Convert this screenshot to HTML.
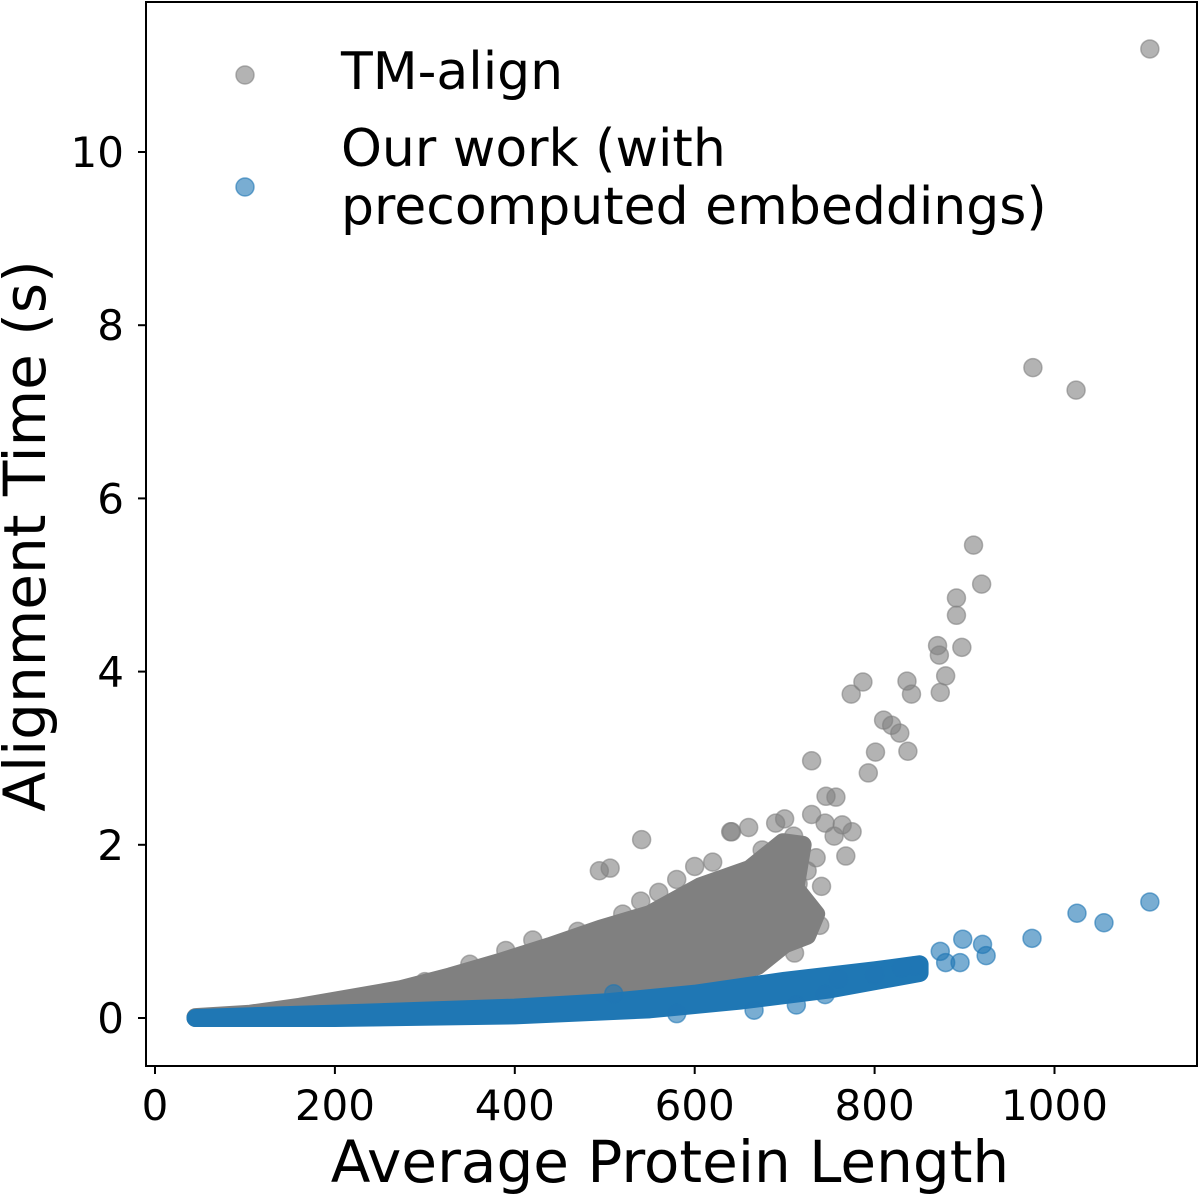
<!DOCTYPE html>
<html><head><meta charset="utf-8"><style>
html,body{margin:0;padding:0;background:#fff;}
svg text{font-family:"DejaVu Sans","Liberation Sans",sans-serif;fill:#000;}
</style></head><body>
<svg id="chart" width="1200" height="1197" viewBox="0 0 1200 1197" xmlns="http://www.w3.org/2000/svg">
<g id="plot"></g>
<rect x="146" y="2" width="1051" height="1064" fill="none" stroke="#000" stroke-width="2"/>
<g id="axes"></g>
<text x="670" y="1182" font-size="58" text-anchor="middle">Average Protein Length</text>
<text transform="translate(45,536) rotate(-90)" font-size="58" text-anchor="middle">Alignment Time (s)</text>
<g>
<circle cx="245" cy="75" r="9" fill="#808080" fill-opacity="0.6" stroke="#808080" stroke-opacity="0.6" stroke-width="1.5"/>
<text x="341" y="89" font-size="52">TM-align</text>
<circle cx="245" cy="187" r="9" fill="#1f77b4" fill-opacity="0.6" stroke="#1f77b4" stroke-opacity="0.6" stroke-width="1.5"/>
<text x="341" y="166" font-size="52">Our work (with</text>
<text x="341" y="224" font-size="52">precomputed embeddings)</text>
</g>
</svg>
<script>
// X ticks and Y ticks
const xTicks = [0, 200, 400, 600, 800, 1000];
const yTicks = [0, 2, 4, 6, 8, 10];
// Dense TM-align cloud envelope [length, seconds]
const grayBandX = [45, 106, 161, 272, 328, 384, 439, 495, 550, 606, 661, 698, 720, 712, 735, 725, 700, 670, 640, 620, 600, 500, 300, 45];
const grayBandY = [0.01, 0.05, 0.13, 0.33, 0.48, 0.65, 0.83, 1.03, 1.2, 1.52, 1.72, 2.03, 2.0, 1.5, 1.2, 0.95, 0.85, 0.6, 0.5, 0.4, 0.3, 0.15, 0.05, 0];
// TM-align individual points
const grayX = [1106, 976, 1024, 910, 919, 891, 891, 897, 870, 872, 879, 873, 836, 841, 787, 774, 810, 819, 828, 801, 837, 793, 730, 746, 757, 764, 775, 768, 541, 494, 506, 641, 675, 739, 741, 711, 655, 632, 714, 701, 620, 640, 660, 690, 700, 710, 730, 745, 755, 735, 725, 715, 560, 580, 600, 540, 350, 420, 470, 520, 450, 300, 390];
const grayY = [11.19, 7.51, 7.25, 5.46, 5.01, 4.85, 4.65, 4.28, 4.30, 4.19, 3.95, 3.76, 3.89, 3.74, 3.88, 3.74, 3.44, 3.38, 3.29, 3.07, 3.08, 2.83, 2.97, 2.56, 2.55, 2.23, 2.15, 1.87, 2.06, 1.70, 1.73, 2.15, 1.94, 1.07, 1.52, 0.75, 0.58, 0.51, 1.36, 1.27, 1.8, 2.15, 2.2, 2.25, 2.3, 2.1, 2.35, 2.25, 2.1, 1.85, 1.7, 1.55, 1.45, 1.6, 1.75, 1.35, 0.62, 0.9, 1.0, 1.2, 0.82, 0.42, 0.78];
// Our work dense band envelope
const blueBandX = [45, 200, 400, 500, 600, 700, 800, 850, 850, 750, 650, 550, 400, 200, 45];
const blueBandY = [0.0, 0.05, 0.12, 0.18, 0.28, 0.43, 0.55, 0.62, 0.52, 0.33, 0.2, 0.1, 0.03, 0, 0];
// Our work individual points
const blueX = [1106, 1025, 1055, 975, 898, 873, 920, 924, 895, 879, 844, 666, 713, 745, 760, 800, 830, 580, 510];
const blueY = [1.34, 1.21, 1.10, 0.92, 0.91, 0.77, 0.85, 0.72, 0.64, 0.64, 0.60, 0.09, 0.15, 0.27, 0.45, 0.5, 0.58, 0.05, 0.28];

const NS = 'http://www.w3.org/2000/svg';
const xs = v => 155 + v * 0.8995;
const ys = v => 1018 - v * 86.6;
const plot = document.getElementById('plot');
const axes = document.getElementById('axes');

function band(bx, by, color, name) {
  const p = document.createElementNS(NS, 'polygon');
  p.setAttribute('points', bx.map((x, i) => xs(x) + ',' + ys(by[i])).join(' '));
  p.setAttribute('fill', color);
  p.setAttribute('stroke', color);
  p.setAttribute('stroke-width', '18');
  p.setAttribute('stroke-linejoin', 'round');
  
  
  plot.appendChild(p);
}
function pts(px, py, color, name) {
  px.forEach((x, i) => {
    const c = document.createElementNS(NS, 'circle');
    c.setAttribute('cx', xs(x));
    c.setAttribute('cy', ys(py[i]));
    c.setAttribute('r', 9);
    c.setAttribute('fill', color);
    c.setAttribute('fill-opacity', '0.6');
    c.setAttribute('stroke', color);
    c.setAttribute('stroke-opacity', '0.6');
    c.setAttribute('stroke-width', '1.5');
    
    
    plot.appendChild(c);
  });
}
band(grayBandX, grayBandY, '#808080', 'tmalign-dense-cloud');
pts(grayX, grayY, '#808080', 'tmalign-point');
band(blueBandX, blueBandY, '#1f77b4', 'ourwork-dense-cloud');
pts(blueX, blueY, '#1f77b4', 'ourwork-point');

xTicks.forEach(t => {
  const l = document.createElementNS(NS, 'line');
  l.setAttribute('x1', xs(t)); l.setAttribute('x2', xs(t));
  l.setAttribute('y1', 1066); l.setAttribute('y2', 1074);
  l.setAttribute('stroke', '#000'); l.setAttribute('stroke-width', '2');
  
  
  axes.appendChild(l);
  const tx = document.createElementNS(NS, 'text');
  tx.setAttribute('x', xs(t)); tx.setAttribute('y', 1120);
  tx.setAttribute('font-size', '42'); tx.setAttribute('text-anchor', 'middle');
  tx.textContent = t;
  
  
  axes.appendChild(tx);
});
yTicks.forEach(t => {
  const l = document.createElementNS(NS, 'line');
  l.setAttribute('x1', 138); l.setAttribute('x2', 146);
  l.setAttribute('y1', ys(t)); l.setAttribute('y2', ys(t));
  l.setAttribute('stroke', '#000'); l.setAttribute('stroke-width', '2');
  
  
  axes.appendChild(l);
  const tx = document.createElementNS(NS, 'text');
  tx.setAttribute('x', 124); tx.setAttribute('y', ys(t) + 15);
  tx.setAttribute('font-size', '42'); tx.setAttribute('text-anchor', 'end');
  tx.textContent = t;
  
  
  axes.appendChild(tx);
});
</script>
</body></html>
